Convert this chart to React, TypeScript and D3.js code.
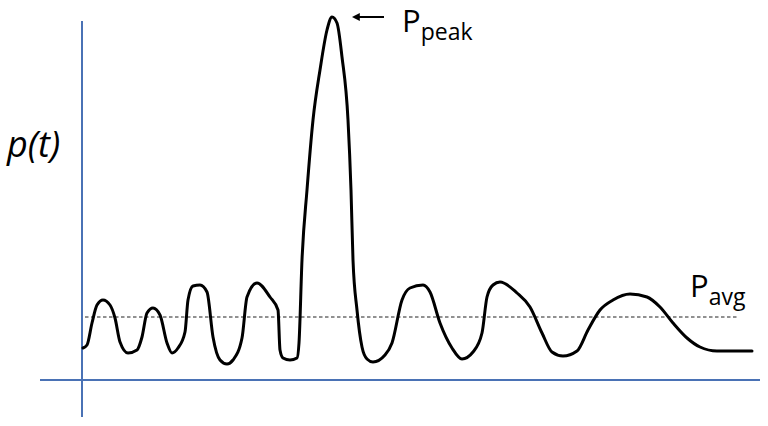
import React from "react";
import * as d3 from "d3";

// time (arbitrary units) and instantaneous power p(t) (arbitrary units)
const times = [0,4,9,14,20,27,32,37,45,54,59,64,70,77,84,89,95,102,105,110,117,124,130,137,144,150,159,164,174,187,195,197,200,207,214,216,219,224,230,237,244,249,254,259,265,268,270,274,279,284,290,302,309,319,327,340,347,357,369,379,390,399,404,410,417,434,447,459,469,480,494,505,517,530,547,564,577,590,604,617,634,669];
const power = [32,35,57,75,80,75,62,38,27,30,43,67,72,65,37,27,32,48,80,94,95,88,43,20,16,20,42,83,97,83,70,30,22,20,22,37,120,190,260,310,350,363,357,323,260,190,120,70,33,21,18,25,37,80,92,95,88,57,32,21,28,47,83,95,98,87,73,47,28,24,29,50,70,80,86,83,73,57,42,33,29,29];
const pAvg = 63;
const avgSpan = [0, 654];
const xAxisSpan = [-43, 677];
const yAxisSpan = [-37, 359];
const peakLabel = { t: 319, base: "P", sub: "peak" };
const avgLabel = { t: 607, base: "P", sub: "avg" };
const yLabel = "p(t)";

export default function App() {
  const W = 768, H = 426;
  const x = d3.scaleLinear().domain([0, 670]).range([83, 753]);
  const y = d3.scaleLinear().domain([0, 363]).range([380, 17]);
  const pts: [number, number][] = times.map((t, i) => [t, power[i]]);
  const line = d3.line<[number, number]>()
    .x(d => x(d[0]))
    .y(d => y(d[1]))
    .curve(d3.curveMonotoneX);
  const axisColor = "#4a72b5";
  const font = "'Open Sans', 'Liberation Sans', sans-serif";
  const peakT = times[power.indexOf(d3.max(power) as number)];
  const peakP = d3.max(power) as number;
  return (
    <svg width={W} height={H} style={{ position: "absolute", left: 0, top: 0, background: "#fff" }}>
      <defs>
        <marker id="ah" viewBox="0 0 10 10" refX="1" refY="5" markerWidth="4" markerHeight="4" orient="auto-start-reverse">
          <path d="M0,0 L10,5 L0,10 z" fill="#000" />
        </marker>
      </defs>
      {/* axes */}
      <line x1={x(0) - 1} x2={x(0) - 1} y1={y(yAxisSpan[1])} y2={y(yAxisSpan[0])} stroke={axisColor} strokeWidth={2} />
      <line x1={x(xAxisSpan[0])} x2={x(xAxisSpan[1])} y1={y(0)} y2={y(0)} stroke={axisColor} strokeWidth={2} />
      {/* average */}
      <line x1={x(avgSpan[0]) + 2} x2={x(avgSpan[1])} y1={y(pAvg)} y2={y(pAvg)} stroke="#222" strokeWidth={1} strokeDasharray="3.5,2.5" />
      {/* signal */}
      <path d={line(pts) || ""} fill="none" stroke="#000" strokeWidth={3} strokeLinejoin="round" strokeLinecap="round" />
      {/* peak arrow */}
      <line x1={x(peakT) + 27} x2={x(peakT) + 52} y1={y(peakP)} y2={y(peakP)} stroke="#000" strokeWidth={2} markerStart="url(#ah)" />
      <text x={x(peakLabel.t)} y={32} fontFamily={font} fontSize={31} fill="#000">
        {peakLabel.base}
        <tspan fontSize={23} dy={8}>{peakLabel.sub}</tspan>
      </text>
      <text x={x(avgLabel.t)} y={297} fontFamily={font} fontSize={31} fill="#000">
        {avgLabel.base}
        <tspan fontSize={23} dy={8}>{avgLabel.sub}</tspan>
      </text>
      <text x={7} y={157} fontFamily={font} fontSize={36} fontStyle="italic" fill="#000">{yLabel}</text>
    </svg>
  );
}
